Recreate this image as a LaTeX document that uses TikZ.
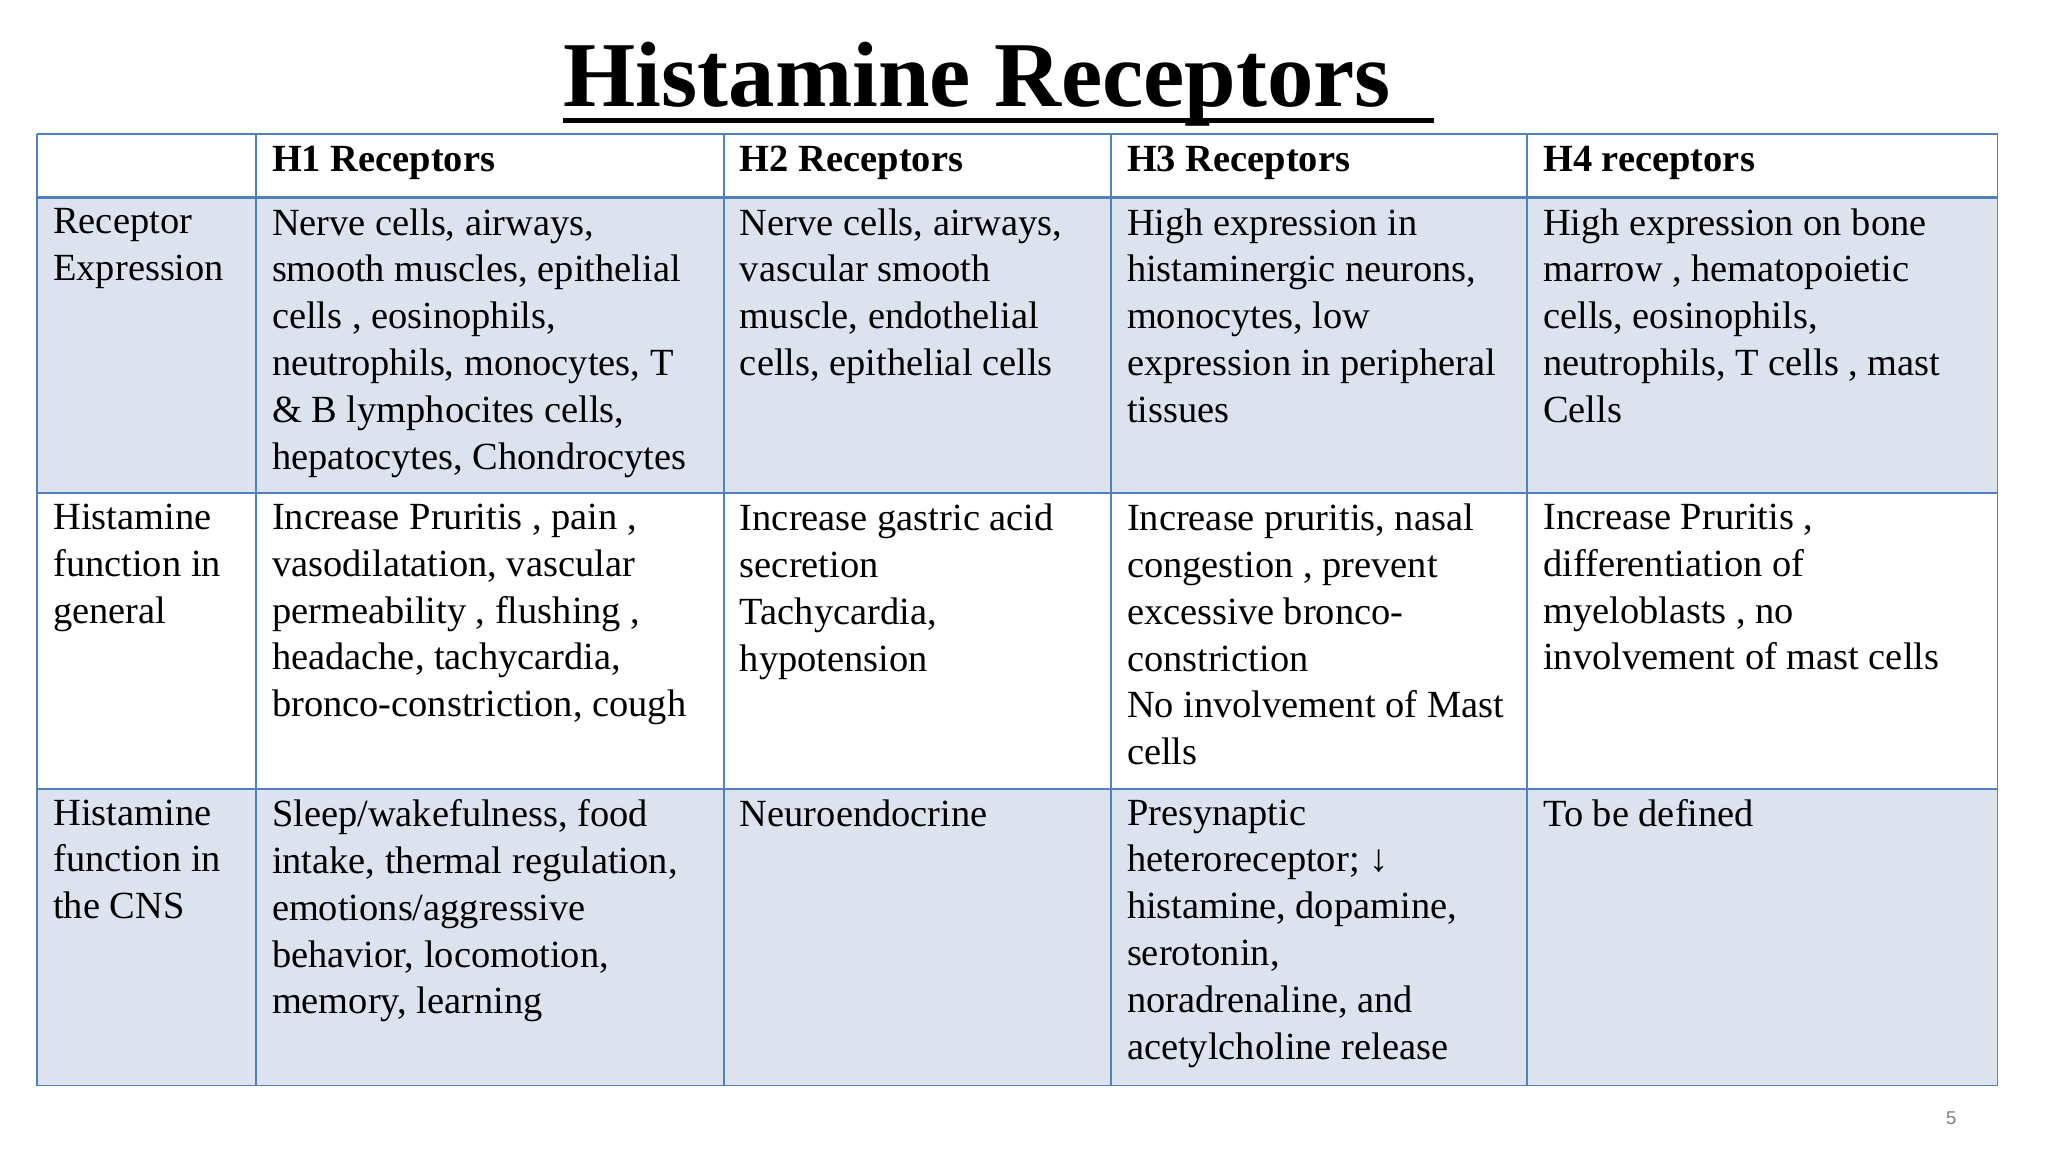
\documentclass[tikz,border=0pt]{standalone}
\usepackage{fontspec}
\setmainfont{Liberation Serif}
\newfontfamily\sansf{Liberation Sans}
\definecolor{bordc}{HTML}{4F81BD}
\definecolor{cellshade}{HTML}{DCE3EF}
\begin{document}
\begin{tikzpicture}[x=1pt,y=-1pt,
  cell/.style={anchor=north west,align=left,inner sep=0pt,font=\fontsize{29}{35.3}\selectfont},
  hcell/.style={cell,font=\fontsize{29}{35.3}\selectfont\bfseries}]
\useasboundingbox[fill=white] (0,0) rectangle (1545,869);
\node[anchor=base west,inner sep=0pt,font=\fontsize{70}{76}\selectfont\bfseries] (title) at (425,80) {Histamine Receptors};
\coordinate (ul1) at (425,91);
\coordinate (ul2) at (1082,91);
\draw[line width=3.5pt] (ul1) -- (ul2);
\fill[cellshade] (28,149) rectangle (1507,372);
\fill[cellshade] (28,595) rectangle (1507,819);
\foreach \x in {28,193,546,838,1152,1507} \draw[bordc,line width=1.2pt] (\x,101) -- (\x,819);
\foreach \y in {101,372,595,819} \draw[bordc,line width=1.2pt] (28,\y) -- (1507,\y);
\draw[bordc,line width=2.5pt] (28,149) -- (1507,149);
% header
\node[hcell] (h1) at (205,110) {H1 Receptors};
\node[hcell] (h2) at (558,110) {H2 Receptors};
\node[hcell] (h3) at (850,110) {H3 Receptors};
\node[hcell] (h4) at (1164,110) {H4 receptors};
% row 1
\node[cell] (r1) at (40,157) {Receptor\\Expression};
\node[cell] (a1) at (205,157) {Nerve cells, airways,\\smooth muscles, epithelial\\cells , eosinophils,\\neutrophils, monocytes, T\\\& B lymphocites cells,\\hepatocytes, Chondrocytes};
\node[cell] (b1) at (558,157) {Nerve cells, airways,\\vascular smooth\\muscle, endothelial\\cells, epithelial cells};
\node[cell] (c1) at (850,157) {High expression in\\histaminergic neurons,\\monocytes, low\\expression in peripheral\\tissues};
\node[cell] (d1) at (1164,157) {High expression on bone\\marrow , hematopoietic\\cells, eosinophils,\\neutrophils, T cells , mast\\Cells};
% row 2
\node[cell] (r2) at (40,380) {Histamine\\function in\\general};
\node[cell] (a2) at (205,380) {Increase Pruritis , pain ,\\vasodilatation, vascular\\permeability , flushing ,\\headache, tachycardia,\\bronco-constriction, cough};
\node[cell] (b2) at (558,380) {Increase gastric acid\\secretion\\Tachycardia,\\hypotension};
\node[cell] (c2) at (850,380) {Increase pruritis, nasal\\congestion , prevent\\excessive bronco-\\constriction\\No involvement of Mast\\cells};
\node[cell] (d2) at (1164,380) {Increase Pruritis ,\\differentiation of\\myeloblasts , no\\involvement of mast cells};
% row 3
\node[cell] (r3) at (40,603) {Histamine\\function in\\the CNS};
\node[cell] (a3) at (205,603) {Sleep/wakefulness, food\\intake, thermal regulation,\\emotions/aggressive\\behavior, locomotion,\\memory, learning};
\node[cell] (b3) at (558,603) {Neuroendocrine};
\node[cell] (c3) at (850,603) {Presynaptic\\heteroreceptor; ↓\\histamine, dopamine,\\serotonin,\\noradrenaline, and\\acetylcholine release};
\node[cell] (d3) at (1164,603) {To be defined};
\node[anchor=base,font=\sansf\fontsize{14}{16}\selectfont,text=gray] (pg) at (1472,848) {5};
\end{tikzpicture}
\end{document}
